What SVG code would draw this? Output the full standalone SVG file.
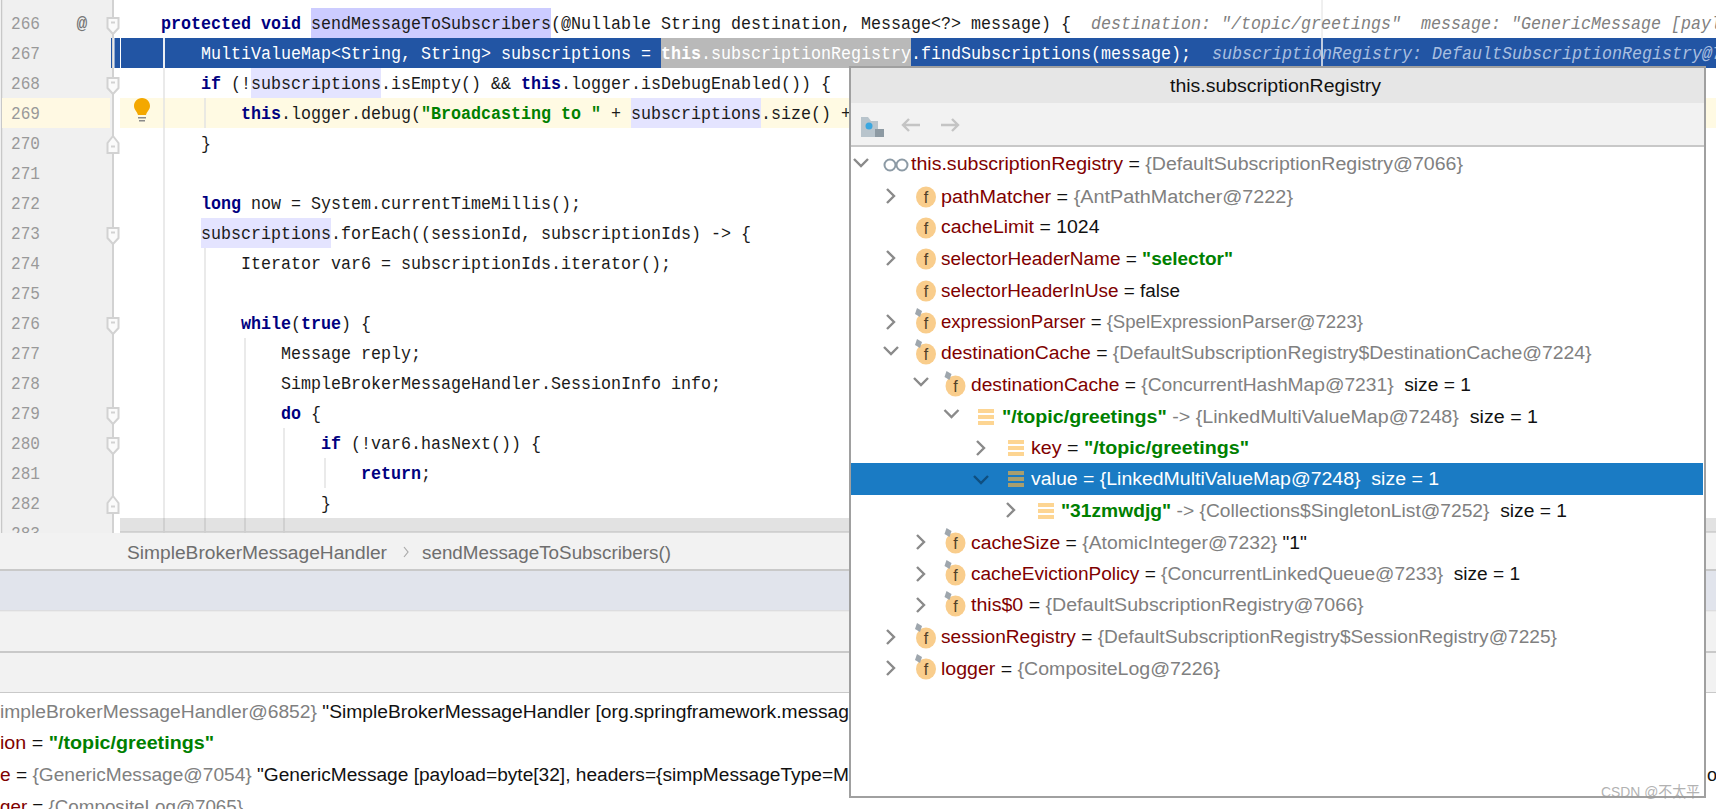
<svg xmlns="http://www.w3.org/2000/svg" width="1716" height="809" viewBox="0 0 1716 809">
<style>
text{white-space:pre}
.c{font:18px "Liberation Mono",monospace;fill:#1a1a1a}
.k{font-weight:bold;fill:#000080}
.s{font-weight:bold;fill:#008000}
.n{font:18px "Liberation Mono",monospace;fill:#999}
.h{font:italic 18px "Liberation Mono",monospace;fill:#808080}
.hb{font:italic 18px "Liberation Mono",monospace;fill:#a9bfe0}
.t{font:18px "Liberation Sans",Arial,sans-serif;fill:#111}
.m{fill:#7f0000}
.g{fill:#808080}
.q{font-weight:bold;fill:#008000}
.gl{stroke:#e4e4e4;stroke-width:1.5;fill:none}
.cv{stroke:#8a8a8a;stroke-width:2.4;fill:none}
.fd{fill:#fafafa;stroke:#d2d2d2;stroke-width:2}
</style>
<defs>
<g id="fi"><ellipse cx="0" cy="0" rx="10" ry="10.5" fill="#f9cd8c"/><text x="0" y="5.5" text-anchor="middle" style="font:16px 'Liberation Sans',sans-serif;fill:#4f4028">f</text></g>
<g id="fp"><use href="#fi"/><path d="M-11-9l2-6 5 3-2 6z" fill="#9ea6ad"/></g>
<g id="br"><path d="M0 0h16v4H0zM0 6h16v4H0zM0 12h16v4H0z" fill="#fdd592"/></g>
<path id="cr" class="cv" d="M-4-7l7 7-7 7"/>
<path id="cd" class="cv" d="M-7-4l7 7 7-7"/>
<path id="fo" class="fd" d="M-5.500-7h11V3L0 9-5.500 3zM-2-2.500h4"/>
<path id="fc" class="fd" d="M-5.500 9h11V-1L0-8-5.500-1zM-2 2.500h4"/>
</defs>

<g id="editor">
<rect width="1716" height="533" fill="#fff"/>
<rect x="2" width="110" height="533" fill="#f0f0f0"/>
<path d="M1.500 0V569" stroke="#c8c8c8" stroke-width="1.500"/>
<rect x="2" y="98" width="108" height="30" fill="#fff9e3"/>
<rect x="120" y="98" width="1596" height="30" fill="#fffae3"/>
<rect x="311" y="8" width="240" height="30" fill="#ccccff"/>
<rect x="251" y="68" width="130" height="30" fill="#e4e4ff"/>
<rect x="631" y="98" width="130" height="30" fill="#e4e4ff"/>
<rect x="201" y="218" width="130" height="30" fill="#e4e4ff"/>
<rect x="111" y="38" width="1605" height="30" fill="#2255a4"/>
<path d="M113 0V533" stroke="#d2d2d2" stroke-width="2"/>
<path d="M1322 0V66" stroke="#e0e0e0" stroke-width="1"/>
<path d="M1322 38V66" stroke="#fff" stroke-width="1"/>
<path d="M114 38V68M120.500 38V68" stroke="#fff" stroke-width="1"/>
<rect x="661" y="38" width="250" height="30" fill="#b9b9b9"/>
<rect x="120" y="518" width="1596" height="14" fill="#e2e2e2"/>
<path d="M120 532H1716" stroke="#c8c8c8" stroke-width="1.500"/>
<path class="gl" d="M164 38V533M205 98V128M205 248V533M245 338V533M284 428V533M325 458V488"/>
<path d="M164 38V68" stroke="#fff" stroke-width="1.500"/>
<path d="M164 518V533M205 518V533M245 518V533M284 518V533" stroke="#cacaca" stroke-width="1.500"/>
<use href="#fo" x="113" y="25"/><use href="#fo" x="113" y="85"/><use href="#fc" x="113" y="144"/>
<use href="#fo" x="113" y="235"/><use href="#fo" x="113" y="325"/><use href="#fo" x="113" y="415"/><use href="#fo" x="113" y="445"/><use href="#fc" x="113" y="504"/>
<text x="82" y="29" text-anchor="middle" style="font:bold 18px 'Liberation Mono',monospace;fill:#777">@</text>
<g id="bulb"><path d="M142 98c-5 0-8 4-8 8 0 4 3 5 4 9h8c1-4 4-5 4-9 0-4-3-8-8-8z" fill="#f4a800"/><path d="M138 117h8v1.500h-8zM139 120h6v1.500h-6z" fill="#8a8a8a"/></g>
<g id="linenos">
<text class="n" x="11" y="29" textLength="29" lengthAdjust="spacingAndGlyphs">266</text><text class="n" x="11" y="59" textLength="29" lengthAdjust="spacingAndGlyphs">267</text><text class="n" x="11" y="89" textLength="29" lengthAdjust="spacingAndGlyphs">268</text><text class="n" x="11" y="119" textLength="29" lengthAdjust="spacingAndGlyphs">269</text><text class="n" x="11" y="149" textLength="29" lengthAdjust="spacingAndGlyphs">270</text><text class="n" x="11" y="179" textLength="29" lengthAdjust="spacingAndGlyphs">271</text><text class="n" x="11" y="209" textLength="29" lengthAdjust="spacingAndGlyphs">272</text><text class="n" x="11" y="239" textLength="29" lengthAdjust="spacingAndGlyphs">273</text><text class="n" x="11" y="269" textLength="29" lengthAdjust="spacingAndGlyphs">274</text><text class="n" x="11" y="299" textLength="29" lengthAdjust="spacingAndGlyphs">275</text><text class="n" x="11" y="329" textLength="29" lengthAdjust="spacingAndGlyphs">276</text><text class="n" x="11" y="359" textLength="29" lengthAdjust="spacingAndGlyphs">277</text><text class="n" x="11" y="389" textLength="29" lengthAdjust="spacingAndGlyphs">278</text><text class="n" x="11" y="419" textLength="29" lengthAdjust="spacingAndGlyphs">279</text><text class="n" x="11" y="449" textLength="29" lengthAdjust="spacingAndGlyphs">280</text><text class="n" x="11" y="479" textLength="29" lengthAdjust="spacingAndGlyphs">281</text><text class="n" x="11" y="509" textLength="29" lengthAdjust="spacingAndGlyphs">282</text><text class="n" x="11" y="539" textLength="29" lengthAdjust="spacingAndGlyphs">283</text>
</g>
<g id="code">
<text class="c" x="161" y="29" textLength="910" lengthAdjust="spacingAndGlyphs"><tspan class="k">protected void</tspan> sendMessageToSubscribers(@Nullable String destination, Message&lt;?&gt; message) {</text>
<text class="h" x="1091" y="29" textLength="630" lengthAdjust="spacingAndGlyphs">destination: "/topic/greetings"  message: "GenericMessage [payl</text>
<text class="c" x="201" y="59" textLength="990" lengthAdjust="spacingAndGlyphs" style="fill:#fff">MultiValueMap&lt;String, String&gt; subscriptions = <tspan font-weight="bold">this</tspan>.subscriptionRegistry.findSubscriptions(message);</text>
<text class="hb" x="1212" y="59" textLength="510" lengthAdjust="spacingAndGlyphs">subscriptionRegistry: DefaultSubscriptionRegistry@7</text>
<text class="c" x="201" y="89" textLength="630" lengthAdjust="spacingAndGlyphs"><tspan class="k">if</tspan> (!subscriptions.isEmpty() &amp;&amp; <tspan class="k">this</tspan>.logger.isDebugEnabled()) {</text>
<text class="c" x="241" y="119" textLength="610" lengthAdjust="spacingAndGlyphs"><tspan class="k">this</tspan>.logger.debug(<tspan class="s">"Broadcasting to "</tspan> + subscriptions.size() +</text>
<text class="c" x="201" y="149" textLength="10" lengthAdjust="spacingAndGlyphs">}</text>
<text class="c" x="201" y="209" textLength="380" lengthAdjust="spacingAndGlyphs"><tspan class="k">long</tspan> now = System.currentTimeMillis();</text>
<text class="c" x="201" y="239" textLength="550" lengthAdjust="spacingAndGlyphs">subscriptions.forEach((sessionId, subscriptionIds) -&gt; {</text>
<text class="c" x="241" y="269" textLength="430" lengthAdjust="spacingAndGlyphs">Iterator var6 = subscriptionIds.iterator();</text>
<text class="c" x="241" y="329" textLength="130" lengthAdjust="spacingAndGlyphs"><tspan class="k">while</tspan>(<tspan class="k">true</tspan>) {</text>
<text class="c" x="281" y="359" textLength="140" lengthAdjust="spacingAndGlyphs">Message reply;</text>
<text class="c" x="281" y="389" textLength="440" lengthAdjust="spacingAndGlyphs">SimpleBrokerMessageHandler.SessionInfo info;</text>
<text class="c" x="281" y="419" textLength="40" lengthAdjust="spacingAndGlyphs"><tspan class="k">do</tspan> {</text>
<text class="c" x="321" y="449" textLength="220" lengthAdjust="spacingAndGlyphs"><tspan class="k">if</tspan> (!var6.hasNext()) {</text>
<text class="c" x="361" y="479" textLength="70" lengthAdjust="spacingAndGlyphs"><tspan class="k">return</tspan>;</text>
<text class="c" x="321" y="509" textLength="10" lengthAdjust="spacingAndGlyphs">}</text>
</g>
</g>

<g id="panels">
<rect y="533" width="1716" height="37" fill="#f2f2f2"/>
<rect y="569" width="1716" height="2" fill="#c9c9c9"/>
<rect y="571" width="1716" height="39.500" fill="#e1e4ec"/>
<rect y="610.500" width="1716" height="1" fill="#c9c9c9"/>
<rect y="611.500" width="1716" height="40" fill="#f2f2f2"/>
<rect y="651" width="1716" height="2" fill="#c9c9c9"/>
<rect y="653" width="1716" height="39" fill="#f2f2f2"/>
<rect y="692" width="1716" height="1" fill="#c9c9c9"/>
<rect y="693" width="1716" height="116" fill="#fff"/>
<text class="t" x="127" y="559" textLength="260" lengthAdjust="spacingAndGlyphs" style="fill:#6e6e6e">SimpleBrokerMessageHandler</text>
<path d="M404 547l4 5-4 5" stroke="#aaa" stroke-width="1.200" fill="none"/>
<text class="t" x="422" y="559" textLength="249" lengthAdjust="spacingAndGlyphs" style="fill:#6e6e6e">sendMessageToSubscribers()</text>
<text class="t" x="0" y="718" textLength="849" lengthAdjust="spacingAndGlyphs"><tspan class="g">impleBrokerMessageHandler@6852}</tspan> "SimpleBrokerMessageHandler [org.springframework.messag</text>
<text class="t" x="0" y="749" textLength="214" lengthAdjust="spacingAndGlyphs"><tspan class="m">ion</tspan> = <tspan class="q">"/topic/greetings"</tspan></text>
<text class="t" x="0" y="781" textLength="849" lengthAdjust="spacingAndGlyphs"><tspan class="m">e</tspan> = <tspan class="g">{GenericMessage@7054}</tspan> "GenericMessage [payload=byte[32], headers={simpMessageType=M</text>
<text class="t" x="0" y="813" textLength="243" lengthAdjust="spacingAndGlyphs"><tspan class="m">ger</tspan> = <tspan class="g">{CompositeLog@7065}</tspan></text>
<text class="t" x="1707" y="781">o</text>
</g>

<g id="popup">
<rect x="850" y="67" width="855" height="730" fill="#fff" stroke="#a0a0a0" stroke-width="2"/>
<rect x="851" y="68" width="853" height="35" fill="#e6e6e6"/>
<rect x="851" y="103" width="853" height="42" fill="#f2f2f2"/>
<rect x="851" y="145" width="853" height="2" fill="#c8c8c8"/>
<text class="t" x="1170" y="92" textLength="211" lengthAdjust="spacingAndGlyphs">this.subscriptionRegistry</text>
<g id="toolbar">
<path d="M861 117h7l3 4h7v16h-17z" fill="#b8c4cc"/><circle cx="869" cy="126" r="3.500" fill="#3ba7e0"/><rect x="875" y="129" width="9" height="8" fill="#8d9aa3"/>
<path d="M920 125h-17M909 119l-6 6 6 6M941 125h17M952 119l6 6-6 6" stroke="#c4c4c4" stroke-width="2.400" fill="none"/>
</g>
<rect x="851" y="463" width="852" height="32" fill="#1a7bc4"/>
<g id="tree">
<use href="#cd" x="861" y="163"/>
<g fill="none" stroke="#8c9aa5" stroke-width="2"><circle cx="890" cy="165" r="5.500"/><circle cx="902" cy="165" r="5.500"/></g>
<text class="t" x="911" y="170" textLength="552" lengthAdjust="spacingAndGlyphs"><tspan class="m">this.subscriptionRegistry</tspan> = <tspan class="g">{DefaultSubscriptionRegistry@7066}</tspan></text>

<use href="#cr" x="891" y="196"/><use href="#fi" x="926" y="197"/>
<text class="t" x="941" y="203" textLength="352" lengthAdjust="spacingAndGlyphs"><tspan class="m">pathMatcher</tspan> = <tspan class="g">{AntPathMatcher@7222}</tspan></text>

<use href="#fi" x="926" y="228"/>
<text class="t" x="941" y="233" textLength="158.500" lengthAdjust="spacingAndGlyphs"><tspan class="m">cacheLimit</tspan> = 1024</text>

<use href="#cr" x="891" y="258"/><use href="#fi" x="926" y="259"/>
<text class="t" x="941" y="265" textLength="292" lengthAdjust="spacingAndGlyphs"><tspan class="m">selectorHeaderName</tspan> = <tspan class="q">"selector"</tspan></text>

<use href="#fi" x="926" y="291"/>
<text class="t" x="941" y="297" textLength="239" lengthAdjust="spacingAndGlyphs"><tspan class="m">selectorHeaderInUse</tspan> = false</text>

<use href="#cr" x="891" y="322"/><use href="#fp" x="926" y="323"/>
<text class="t" x="941" y="328" textLength="422" lengthAdjust="spacingAndGlyphs"><tspan class="m">expressionParser</tspan> = <tspan class="g">{SpelExpressionParser@7223}</tspan></text>

<use href="#cd" x="891" y="351"/><use href="#fp" x="926" y="354"/>
<text class="t" x="941" y="359" textLength="650.500" lengthAdjust="spacingAndGlyphs"><tspan class="m">destinationCache</tspan> = <tspan class="g">{DefaultSubscriptionRegistry$DestinationCache@7224}</tspan></text>

<use href="#cd" x="921" y="382"/><use href="#fp" x="955.500" y="386"/>
<text class="t" x="971" y="391" textLength="500" lengthAdjust="spacingAndGlyphs"><tspan class="m">destinationCache</tspan> = <tspan class="g">{ConcurrentHashMap@7231}</tspan>  size = 1</text>

<use href="#cd" x="951.500" y="414"/><use href="#br" x="978" y="409"/>
<text class="t" x="1002" y="423" textLength="536" lengthAdjust="spacingAndGlyphs"><tspan class="q">"/topic/greetings"</tspan><tspan class="g"> -&gt; {LinkedMultiValueMap@7248}</tspan>  size = 1</text>

<use href="#cr" x="981" y="448"/><use href="#br" x="1008" y="440"/>
<text class="t" x="1031" y="454" textLength="218" lengthAdjust="spacingAndGlyphs"><tspan class="m">key</tspan> = <tspan class="q">"/topic/greetings"</tspan></text>

<path d="M974 476l7 7 7-7" stroke="#0f4f80" stroke-width="2.400" fill="none"/>
<g transform="translate(1008 471)"><path d="M0 0h16v4H0zM0 6h16v4H0zM0 12h16v4H0z" fill="#a89e6e"/></g>
<text class="t" x="1031" y="485" textLength="408" lengthAdjust="spacingAndGlyphs" style="fill:#fff">value = {LinkedMultiValueMap@7248}  size = 1</text>

<use href="#cr" x="1011" y="510"/><use href="#br" x="1038" y="503"/>
<text class="t" x="1061" y="517" textLength="506" lengthAdjust="spacingAndGlyphs"><tspan class="q">"31zmwdjg"</tspan><tspan class="g"> -&gt; {Collections$SingletonList@7252}</tspan>  size = 1</text>

<use href="#cr" x="921" y="542"/><use href="#fp" x="955.500" y="543"/>
<text class="t" x="971" y="549" textLength="336" lengthAdjust="spacingAndGlyphs"><tspan class="m">cacheSize</tspan> = <tspan class="g">{AtomicInteger@7232}</tspan> "1"</text>

<use href="#cr" x="921" y="574"/><use href="#fp" x="955.500" y="575"/>
<text class="t" x="971" y="580" textLength="549" lengthAdjust="spacingAndGlyphs"><tspan class="m">cacheEvictionPolicy</tspan> = <tspan class="g">{ConcurrentLinkedQueue@7233}</tspan>  size = 1</text>

<use href="#cr" x="921" y="605"/><use href="#fp" x="955.500" y="606"/>
<text class="t" x="971" y="611" textLength="392.600" lengthAdjust="spacingAndGlyphs"><tspan class="m">this$0</tspan> = <tspan class="g">{DefaultSubscriptionRegistry@7066}</tspan></text>

<use href="#cr" x="891" y="637"/><use href="#fp" x="926" y="638"/>
<text class="t" x="941" y="643" textLength="616" lengthAdjust="spacingAndGlyphs"><tspan class="m">sessionRegistry</tspan> = <tspan class="g">{DefaultSubscriptionRegistry$SessionRegistry@7225}</tspan></text>

<use href="#cr" x="891" y="668"/><use href="#fp" x="926" y="669"/>
<text class="t" x="941" y="675" textLength="279" lengthAdjust="spacingAndGlyphs"><tspan class="m">logger</tspan> = <tspan class="g">{CompositeLog@7226}</tspan></text>
</g>
</g>
<text id="watermark" x="1601" y="797" textLength="99" lengthAdjust="spacingAndGlyphs" style="font:15px 'Liberation Sans','Noto Sans CJK SC',sans-serif;fill:#999;opacity:.75">CSDN @不太平</text>
</svg>
